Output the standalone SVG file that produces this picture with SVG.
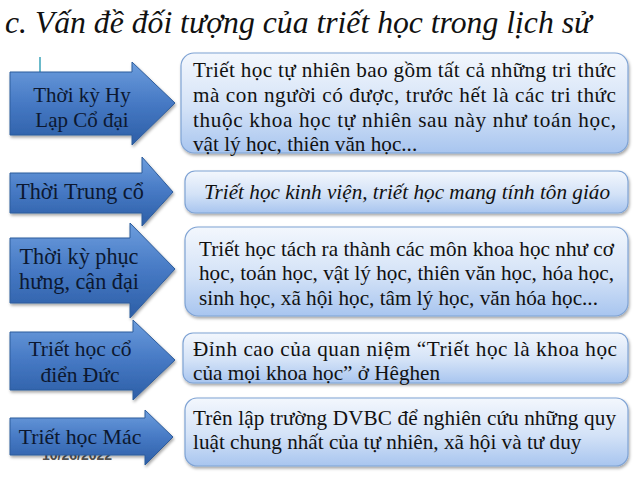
<svg xmlns="http://www.w3.org/2000/svg" width="638" height="478" viewBox="0 0 638 478">
<defs>
<linearGradient id="gArrow" x1="0" y1="0" x2="0" y2="1">
<stop offset="0" stop-color="#6c9ddd"/>
<stop offset="0.5" stop-color="#4679c4"/>
<stop offset="1" stop-color="#2c5ea6"/>
</linearGradient>
<linearGradient id="gBox" x1="0" y1="0" x2="0" y2="1">
<stop offset="0" stop-color="#f3f7fd"/>
<stop offset="0.55" stop-color="#d3e2f7"/>
<stop offset="1" stop-color="#a8c5ef"/>
</linearGradient>
<filter id="sh" x="-10%" y="-20%" width="120%" height="150%">
<feDropShadow dx="1" dy="2" stdDeviation="1.6" flood-color="#000" flood-opacity="0.35"/>
</filter>
</defs>
<style>
text{font-family:"Liberation Serif","Times New Roman",serif;}
.title{font-style:italic;font-size:31.7px;fill:#111;}
.arrow{fill:url(#gArrow);stroke:#2d5c9c;stroke-width:1;filter:url(#sh);}
.box{fill:url(#gBox);stroke:#7fa3d4;stroke-width:1.2;filter:url(#sh);}
.at{fill:#0c1830;text-anchor:middle;}
.bt{font-size:21.2px;fill:#111;}
.it{font-style:italic;}
.date{font-family:"Liberation Sans",Arial,sans-serif;font-weight:bold;font-size:14px;fill:#555;}
</style>
<rect width="638" height="478" fill="#ffffff"/>
<text class="title" x="5" y="33">c. Vấn đề đối tượng của triết học trong lịch sử</text>
<line x1="40" y1="57" x2="40" y2="74" stroke="#3aa3b8" stroke-width="1.5"/>
<text class="date" x="42" y="460">10/26/2022</text>

<g id="connectors"></g>

<g id="arrow1">
<path class="arrow" d="M10,72 H132 V62 L175,103 L132,145 V135 H10 Z"/>
<text class="at" x="82" y="102" font-size="21">Thời kỳ Hy</text>
<text class="at" x="82" y="127" font-size="21">Lạp Cổ đại</text>
</g>
<g id="box1">
<rect class="box" x="181" y="53" width="447" height="100" rx="13"/>
<text class="bt" x="193" y="77" textLength="423" lengthAdjust="spacing">Triết học tự nhiên bao gồm tất cả những tri thức</text>
<text class="bt" x="193" y="102" textLength="423" lengthAdjust="spacing">mà con người có được, trước hết là các tri thức</text>
<text class="bt" x="193" y="127" textLength="423" lengthAdjust="spacing">thuộc khoa học tự nhiên sau này như toán học,</text>
<text class="bt" x="193" y="151">vật lý học, thiên văn học...</text>
</g>

<g id="arrow2">
<path class="arrow" d="M10,173 H142 V157 L173,192 L142,226 V213 H10 Z"/>
<text class="at" x="80" y="199" font-size="22.2">Thời Trung cổ</text>
</g>
<g id="box2">
<rect class="box" x="185" y="171" width="443" height="42" rx="10"/>
<text class="bt it" x="407" y="199" text-anchor="middle">Triết học kinh viện, triết học mang tính tôn giáo</text>
</g>

<g id="arrow3">
<path class="arrow" d="M10,238 H130 V223 L175,269 L130,318 V303 H10 Z"/>
<text class="at" x="79" y="264" font-size="22.2">Thời kỳ phục</text>
<text class="at" x="79" y="289" font-size="22.2">hưng, cận đại</text>
</g>
<g id="box3">
<rect class="box" x="185" y="227" width="443" height="89" rx="13"/>
<text class="bt" x="199" y="256" textLength="415" lengthAdjust="spacing">Triết học tách ra thành các môn khoa học như cơ</text>
<text class="bt" x="199" y="280" textLength="415" lengthAdjust="spacing">học, toán học, vật lý học, thiên văn học, hóa học,</text>
<text class="bt" x="199" y="305">sinh học, xã hội học, tâm lý học, văn hóa học...</text>
</g>

<g id="arrow4">
<path class="arrow" d="M10,332 H133 V320 L175,360 L133,400 V390 H10 Z"/>
<text class="at" x="80" y="356" font-size="21.5">Triết học cổ</text>
<text class="at" x="80" y="382" font-size="21.5">điển Đức</text>
</g>
<g id="box4">
<rect class="box" x="183" y="333" width="445" height="50" rx="10"/>
<text class="bt" x="193" y="356" textLength="424" lengthAdjust="spacing">Đỉnh cao của quan niệm “Triết học là khoa học</text>
<text class="bt" x="193" y="380">của mọi khoa học” ở Hêghen</text>
</g>

<g id="arrow5">
<path class="arrow" d="M10,418 H145 V410 L173,437 L145,465 V455 H10 Z"/>
<text class="at" x="80" y="444" font-size="21.8">Triết học Mác</text>
</g>
<g id="box5">
<rect class="box" x="185" y="398" width="443" height="68" rx="12"/>
<text class="bt" x="193" y="425" textLength="423" lengthAdjust="spacing">Trên lập trường DVBC để nghiên cứu những quy</text>
<text class="bt" x="193" y="449">luật chung nhất của tự nhiên, xã hội và tư duy</text>
</g>
</svg>
